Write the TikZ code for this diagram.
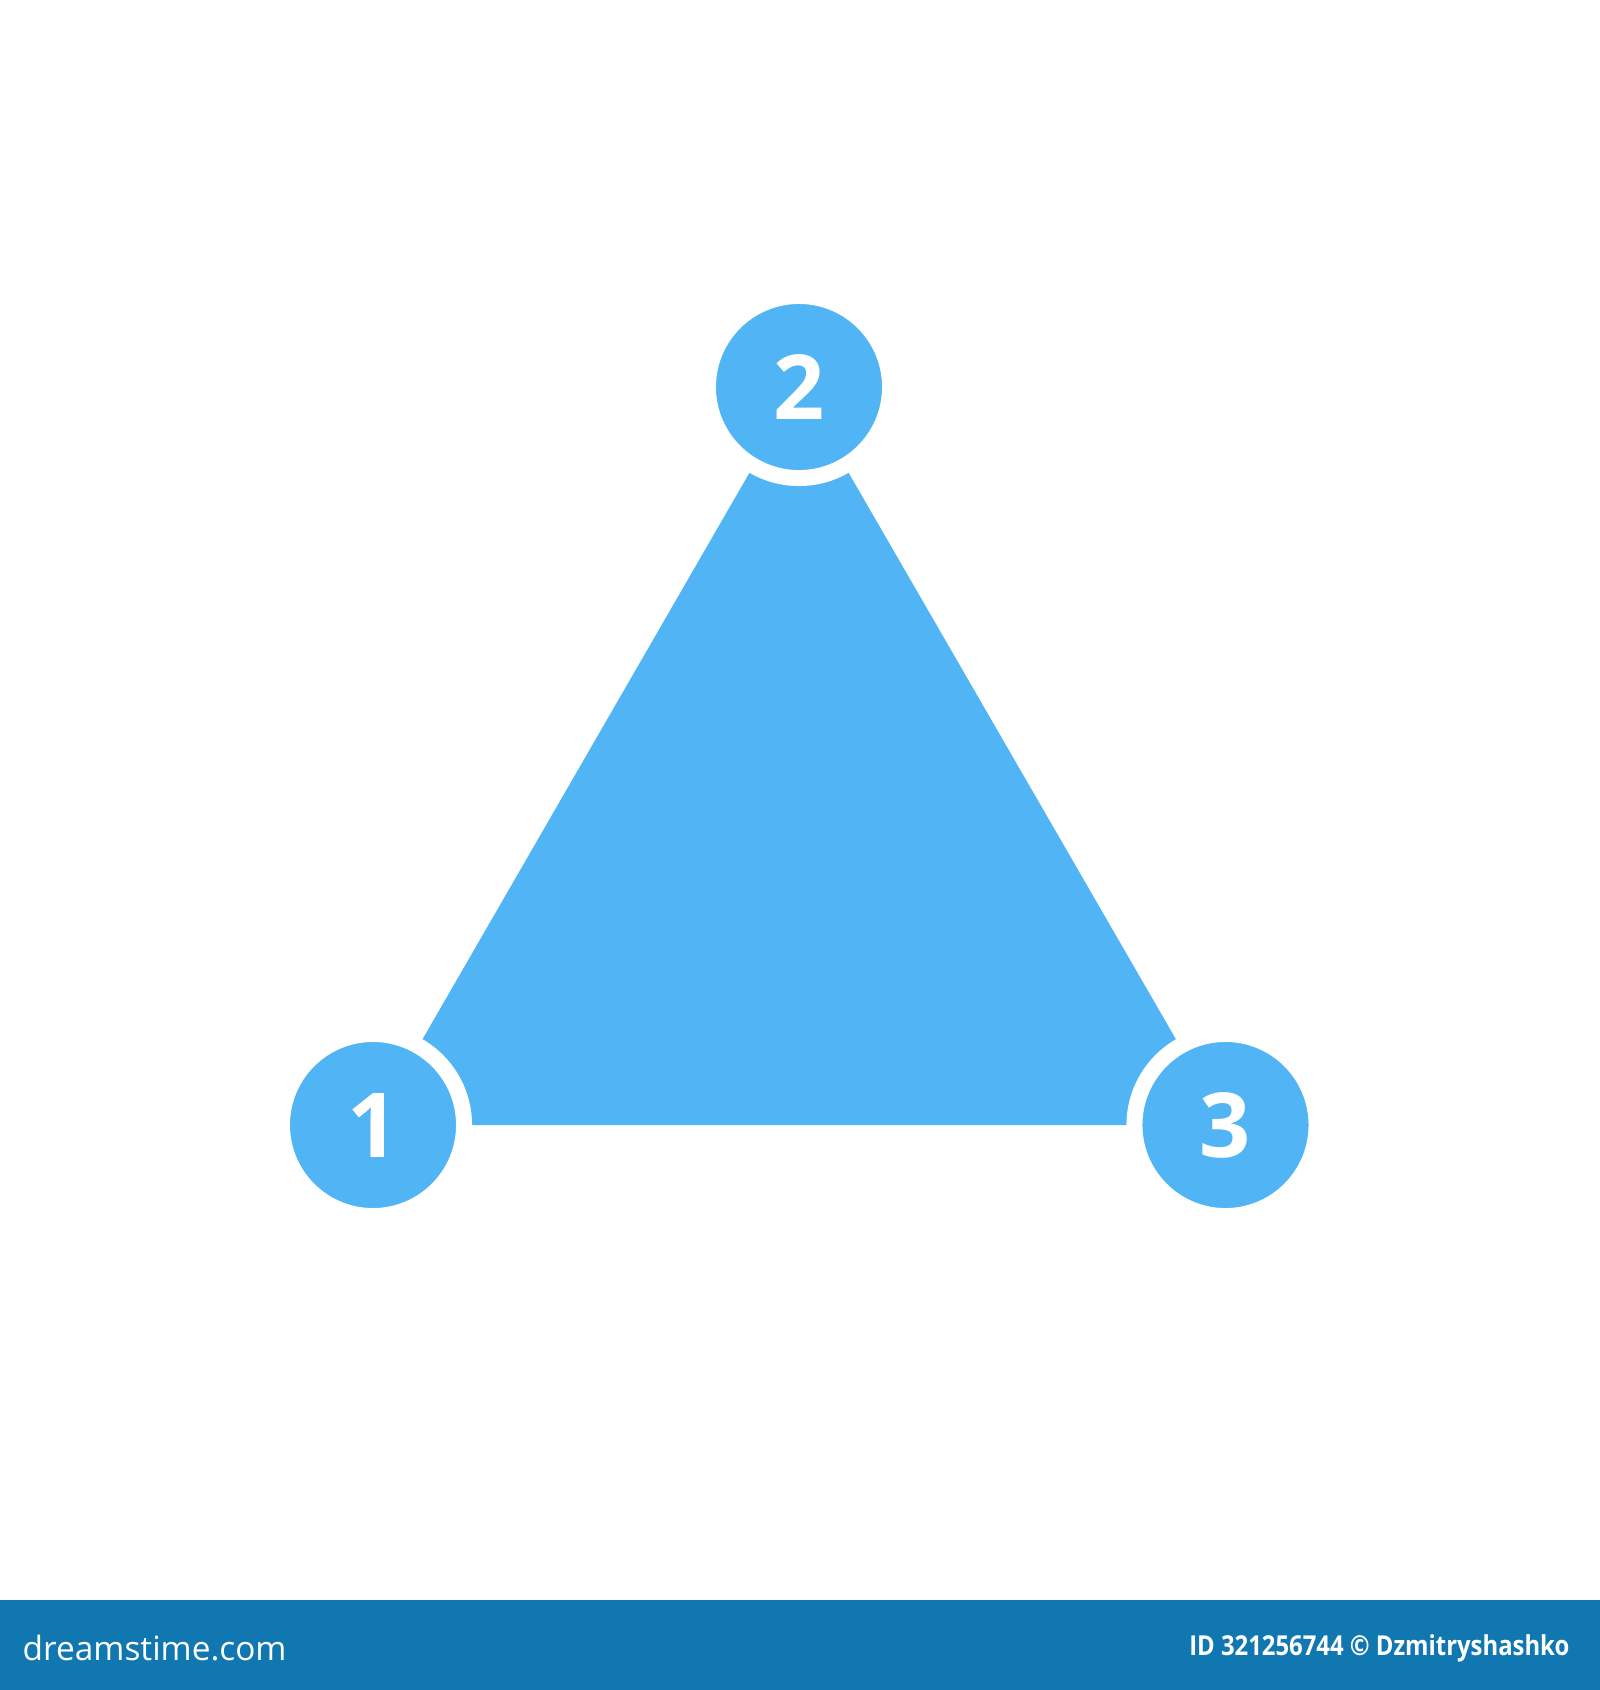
\documentclass[tikz,border=0pt]{standalone}
\usepackage{fontspec}
\setmainfont{Open Sans}
\newfontfamily\bandfont[FakeStretch=0.87]{Open Sans}
\usetikzlibrary{positioning,backgrounds}
\definecolor{triblue}{RGB}{80,180,245}
\definecolor{bandblue}{RGB}{16,119,176}

\begin{document}
\begin{tikzpicture}[x=0.01cm,y=-0.01cm,node distance=8.52cm,
                    main node/.style={circle,fill=triblue,draw=white,line width=0.16cm,
                      minimum size=1.82cm,inner sep=0pt,text=white,
                      font=\fontsize{25.5}{25.5}\selectfont\bfseries},
                    band text/.style={text=white,inner sep=0pt}]
  \useasboundingbox (0,0) rectangle (1600,1690);
  \node[main node] (1) at (373,1125) {1};
  \node[main node] (3) [right of=1] {3};
  \node[main node] (2) at (799,387) {2};
  % triangle goes under the circles
  \begin{scope}[on background layer]
    \fill[white] (0,0) rectangle (1600,1600);
    \fill[triblue] (1.center) -- (2.center) -- (3.center) -- cycle;
  \end{scope}
  \fill[bandblue] (0,1600) rectangle (1600,1690);
  \node[band text,anchor=west,font=\fontsize{9.5}{9.5}\selectfont] (site) at (22,1648) {dreamstime.com};
  \node[band text,anchor=east,font=\bandfont\fontsize{7.8}{7.8}\selectfont\bfseries] (id) at (1570,1648) {ID 321256744 © Dzmitryshashko};
\end{tikzpicture}
\end{document}
